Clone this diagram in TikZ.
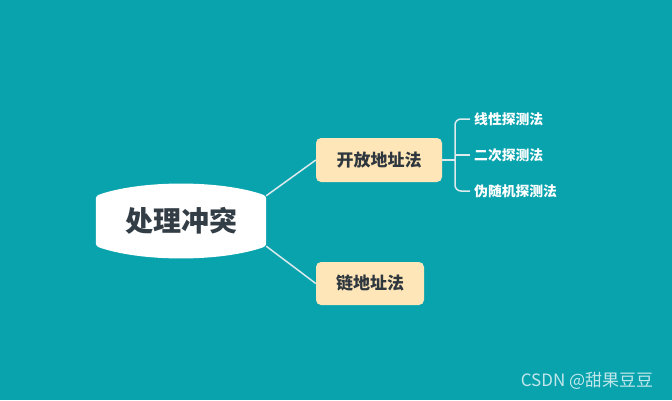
\documentclass[tikz,border=0pt]{standalone}
\usepackage{fontspec}
\newfontfamily\cjk{Noto Sans CJK SC}
\usetikzlibrary{calc}
\definecolor{bg}{RGB}{9,163,174}
\definecolor{peach}{RGB}{255,230,184}
\definecolor{darktxt}{RGB}{51,61,69}
\definecolor{linec}{RGB}{220,234,236}
\tikzset{
  x=1pt,y=1pt,
  topic/.style={fill=peach,rounded corners=5pt,inner sep=0pt,font=\cjk\bfseries\fontsize{17}{20}\selectfont,text=darktxt!90!black},
  leaf/.style={anchor=west,inner sep=0pt,font=\cjk\bfseries\fontsize{13.8}{16}\selectfont,text=white},
  conn/.style={draw=linec,line width=1.5pt},
}
\begin{document}
\begin{tikzpicture}
\fill[bg] (0,0) rectangle (672,400);
\useasboundingbox (0,0) rectangle (672,400);
% central topic
\node[minimum width=170pt,minimum height=50pt,inner sep=0pt] (c) at (181,179) {};
\fill[white,rounded corners=3pt] (c.south west) -- (c.north west)
  .. controls ($(c.north west)+(45,16)$) and ($(c.north east)+(-45,16)$) .. (c.north east)
  -- (c.south east)
  .. controls ($(c.south east)+(-45,-16)$) and ($(c.south west)+(45,-16)$) .. (c.south west) -- cycle;
\node[font=\cjk\bfseries\fontsize{28}{31}\selectfont,text=darktxt] at (c) {处理冲突};
% main topics
\node[topic,minimum width=126pt,minimum height=44pt] (open) at (379,240) {开放地址法};
\node[topic,minimum width=108pt,minimum height=43pt] (chain) at (370,116.5) {链地址法};
\draw[conn] (c.north east) -- (open.west);
\draw[conn] (c.south east) -- (chain.west);
% leaves
\node[leaf] (l1) at (474,281) {线性探测法};
\node[leaf] (l2) at (474,245) {二次探测法};
\node[leaf] (l3) at (474,209) {伪随机探测法};
\coordinate (bx) at (455,240);
\draw[conn] (open.east) -- (bx);
\draw[conn,rounded corners=6pt] ($(l1.west)+(-4,0)$) -| (bx) |- ($(l3.west)+(-4,0)$);
\draw[conn] (bx |- l2.west) -- ($(l2.west)+(-4,0)$);
% watermark
\node[font=\cjk\fontsize{17}{20}\selectfont,text=white,opacity=0.75] (wm) at (587,19) {CSDN @甜果豆豆};
\end{tikzpicture}
\end{document}
